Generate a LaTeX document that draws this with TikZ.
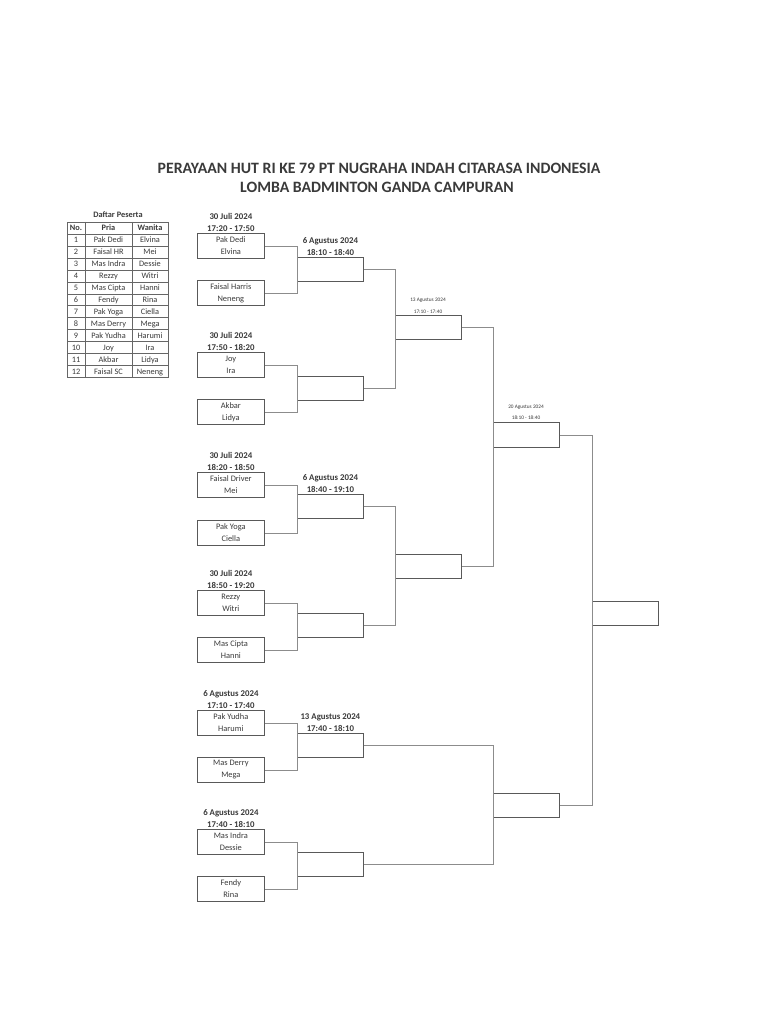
\documentclass[tikz,border=0pt]{standalone}
\usepackage{fontspec}
\setmainfont{Carlito}
\definecolor{txt}{HTML}{3A3A3A}
\begin{document}
\begin{tikzpicture}[x=1pt,y=-1pt,
  pbox/.style={draw=black!65, line width=0.7pt, minimum width=67pt, minimum height=25pt, inner sep=0pt, align=center, font=\fontsize{8.4}{12}\selectfont, text=txt},
  mbox/.style={draw=black!65, line width=0.7pt, minimum width=66pt, minimum height=24pt, inner sep=0pt},
  datelbl/.style={anchor=south, inner sep=1pt, align=center, font=\bfseries\fontsize{8.8}{12}\selectfont, text=txt},
  tinylbl/.style={inner sep=0pt, font=\fontsize{5.3}{6}\selectfont, text=txt},
  conn/.style={draw=black!45, line width=0.6pt},
  tbl/.style={draw=black!60, line width=0.5pt},
  tcell/.style={inner sep=0pt, text height=5.6pt, text depth=1.6pt, font=\fontsize{8.3}{9}\selectfont, text=txt},
  thead/.style={inner sep=0pt, text height=5.6pt, text depth=1.6pt, font=\bfseries\fontsize{8.3}{9}\selectfont, text=txt},
  titl/.style={inner sep=0pt, font=\bfseries\fontsize{15.8}{18}\selectfont, text=txt}]
\useasboundingbox[fill=white] (0,0) rectangle (768,1024);

% title
\node[titl] (t1) at (379,168) {PERAYAAN HUT RI KE 79 PT NUGRAHA INDAH CITARASA INDONESIA};
\node[titl] (t2) at (377,187) {LOMBA BADMINTON GANDA CAMPURAN};

% participant table
\node[thead] (th) at (118,216) {Daftar Peserta};
\draw[tbl] (67,222) rectangle (168,377.5);
\foreach \k in {1,...,12} { \draw[tbl] (67,{222+\k*11.96}) -- (168,{222+\k*11.96}); }
\draw[tbl] (85,222) -- (85,377.5);
\draw[tbl] (132,222) -- (132,377.5);
\node[thead] (hn) at (76,228.8) {No.};
\node[thead] (hp) at (108.5,228.8) {Pria};
\node[thead] (hw) at (150,228.8) {Wanita};
\foreach \n/\a/\b in {1/Pak Dedi/Elvina, 2/Faisal HR/Mei, 3/Mas Indra/Dessie, 4/Rezzy/Witri, 5/Mas Cipta/Hanni, 6/Fendy/Rina, 7/Pak Yoga/Ciella, 8/Mas Derry/Mega, 9/Pak Yudha/Harumi, 10/Joy/Ira, 11/Akbar/Lidya, 12/Faisal SC/Neneng} {
  \node[tcell] (tn\n) at (76,{222.8+(\n+0.5)*11.96}) {\n};
  \node[tcell] (ta\n) at (108.5,{222.8+(\n+0.5)*11.96}) {\a};
  \node[tcell] (tb\n) at (150,{222.8+(\n+0.5)*11.96}) {\b};
}

% round 1 players
\node[pbox, anchor=north west] (p1) at (197,233) {Pak Dedi\\Elvina};
\node[pbox, anchor=north west] (p2) at (197,280) {Faisal Harris\\Neneng};
\node[pbox, anchor=north west] (p3) at (197,352) {Joy\\Ira};
\node[pbox, anchor=north west] (p4) at (197,399) {Akbar\\Lidya};
\node[pbox, anchor=north west] (p5) at (197,472) {Faisal Driver\\Mei};
\node[pbox, anchor=north west] (p6) at (197,520) {Pak Yoga\\Ciella};
\node[pbox, anchor=north west] (p7) at (197,590) {Rezzy\\Witri};
\node[pbox, anchor=north west] (p8) at (197,637) {Mas Cipta\\Hanni};
\node[pbox, anchor=north west] (p9) at (197,710) {Pak Yudha\\Harumi};
\node[pbox, anchor=north west] (p10) at (197,757) {Mas Derry\\Mega};
\node[pbox, anchor=north west] (p11) at (197,829) {Mas Indra\\Dessie};
\node[pbox, anchor=north west] (p12) at (197,876) {Fendy\\Rina};

\node[datelbl] (d1) at (p1.north) {30 Juli 2024\\17:20 - 17:50};
\node[datelbl] (d3) at (p3.north) {30 Juli 2024\\17:50 - 18:20};
\node[datelbl] (d5) at (p5.north) {30 Juli 2024\\18:20 - 18:50};
\node[datelbl] (d7) at (p7.north) {30 Juli 2024\\18:50 - 19:20};
\node[datelbl] (d9) at (p9.north) {6 Agustus 2024\\17:10 - 17:40};
\node[datelbl] (d11) at (p11.north) {6 Agustus 2024\\17:40 - 18:10};

% round 2
\node[mbox, anchor=north west] (m1) at (297,257) {};
\node[mbox, anchor=north west] (m2) at (297,376) {};
\node[mbox, anchor=north west] (m3) at (297,494) {};
\node[mbox, anchor=north west] (m4) at (297,613) {};
\node[mbox, anchor=north west] (m5) at (297,733) {};
\node[mbox, anchor=north west] (m6) at (297,852) {};
\node[datelbl] (e1) at (m1.north) {6 Agustus 2024\\18:10 - 18:40};
\node[datelbl] (e3) at (m3.north) {6 Agustus 2024\\18:40 - 19:10};
\node[datelbl] (e5) at (m5.north) {13 Agustus 2024\\17:40 - 18:10};

% round 3
\node[mbox, anchor=north west] (q1) at (395,315) {};
\node[mbox, anchor=north west] (q2) at (395,554) {};
\node[tinylbl] (f1) at (428,300) {13 Agustus 2024};
\node[tinylbl] (f2) at (428,312) {17:10 - 17:40};

% semifinal
\node[mbox, anchor=north west, minimum height=25pt] (s1) at (493,422) {};
\node[mbox, anchor=north west] (s2) at (493,793) {};
\node[tinylbl] (g1) at (526,407) {20 Agustus 2024};
\node[tinylbl] (g2) at (526,418) {18:10 - 18:40};

% final
\node[mbox, anchor=north west] (fin) at (592,601) {};

% connectors
\draw[conn] (p1.east) -| (m1.west |- p2.east) -- (p2.east);
\draw[conn] (p3.east) -| (m2.west |- p4.east) -- (p4.east);
\draw[conn] (p5.east) -| (m3.west |- p6.east) -- (p6.east);
\draw[conn] (p7.east) -| (m4.west |- p8.east) -- (p8.east);
\draw[conn] (p9.east) -| (m5.west |- p10.east) -- (p10.east);
\draw[conn] (p11.east) -| (m6.west |- p12.east) -- (p12.east);
\draw[conn] (m1.east) -| (q1.west |- m2.east) -- (m2.east);
\draw[conn] (m3.east) -| (q2.west |- m4.east) -- (m4.east);
\draw[conn] (m5.east) -| (s2.west |- m6.east) -- (m6.east);
\draw[conn] (q1.east) -| (s1.west |- q2.east) -- (q2.east);
\draw[conn] (s1.east) -| (fin.west |- s2.east) -- (s2.east);
\end{tikzpicture}
\end{document}
